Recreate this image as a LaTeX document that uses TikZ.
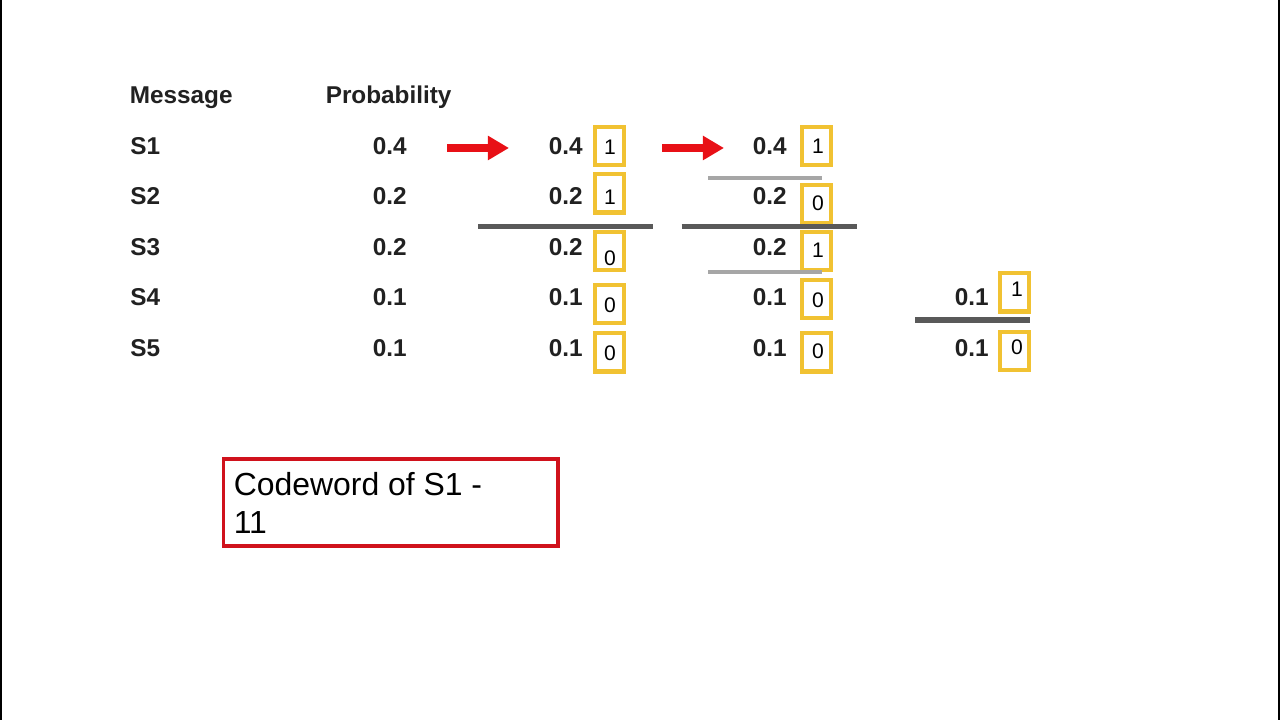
\documentclass[tikz,border=0pt]{standalone}
\usepackage{fontspec}
\setmainfont{Liberation Sans}
\usepackage{xcolor}
\usetikzlibrary{arrows.meta}

\definecolor{boxyellow}{RGB}{241,194,50}
\definecolor{linedark}{RGB}{89,89,89}
\definecolor{linelight}{RGB}{166,166,166}
\definecolor{arrowred}{RGB}{232,16,22}
\definecolor{framered}{RGB}{208,18,28}
\definecolor{labelink}{RGB}{33,33,33}

\tikzset{
  heading/.style={anchor=base west, inner sep=0pt, text=labelink,
    font=\fontsize{17.3}{20}\selectfont\bfseries},
  prob/.style={anchor=base east, inner sep=0pt, text=labelink,
    font=\fontsize{17.3}{20}\selectfont\bfseries},
  bitbox/.style={draw=boxyellow, line width=2.85pt, minimum width=0.725cm,
    minimum height=0.95cm, inner sep=0pt},
  bit/.style={inner sep=0pt, font=\fontsize{15}{18}\selectfont},
  cutdark/.style={draw=linedark, line width=3.56pt},
  cutlight/.style={draw=linelight, line width=2.85pt},
  movearrow/.style={draw=arrowred, line width=5pt,
    -{Triangle[length=15pt,width=16.4pt]}},
  codeframe/.style={draw=framered, line width=2.5pt, minimum width=8.36cm,
    minimum height=2.175cm, inner sep=0pt},
  codetext/.style={anchor=base west, inner sep=0pt, align=left,
    font=\fontsize{22.7}{27}\selectfont}
}

\begin{document}
\begin{tikzpicture}[x=0.025cm, y=-0.025cm]
    \fill[white] (0,0) rectangle (1280,720);
    \useasboundingbox (0,0) rectangle (1280,720);
    \fill[black] (0,0) rectangle (2,720);
    \fill[black] (1278,0) rectangle (1280,720);

    % column heads
    \node[heading] (msg) at (129.5,104) {Message};
    \node[heading] (prb) at (325.5,104) {Probability};

    % messages and their probabilities
    \foreach \s/\y in {1/155,2/205,3/256,4/306,5/357} {
      \node[heading] (s\s) at (130,\y) {S\s};
    };
    \foreach \p/\y [count=\i] in {0.4/155,0.2/205,0.2/256,0.1/306,0.1/357} {
      \node[prob] (p\i) at (407,\y) {\p};
      \node[prob] (q\i) at (583,\y) {\p};
      \node[prob] (r\i) at (787,\y) {\p};
    };
    \node[prob] (t4) at (989,306) {0.1};
    \node[prob] (t5) at (989,357) {0.1};

    % the bits given at each split
    \foreach \n/\x/\y/\dx/\dy/\b in {c2r1/609/146/610/147.5/1, c2r2/609/193.5/610/197.5/1,
                                     c2r3/609/251/610/258/0, c2r4/609/304/610/305/0,
                                     c2r5/609/352.5/610/353/0,%
                                     c3r1/816/146/818/146.5/1, c3r2/816/204/818/203.5/0,
                                     c3r3/816/251/818/250.5/1, c3r4/816/299/818/300/0,
                                     c3r5/816/352.5/818/351.5/0,%
                                     c4r4/1014.5/292.5/1017/289/1, c4r5/1014.5/351/1017/347.5/0} {
      \node[bitbox] (\n) at (\x,\y) {};
      \node[bit] (d\n) at (\dx,\dy) {\b};
    };

    % split lines
    \coordinate (cut2w) at (478,226.7);
    \coordinate (cut2e) at (653,226.7);
    \coordinate (cut3w) at (681.7,226.7);
    \coordinate (cut3e) at (857,226.7);
    \coordinate (up3w) at (708,178);
    \coordinate (up3e) at (822,178);
    \coordinate (lo3w) at (708,272);
    \coordinate (lo3e) at (822,272);
    \coordinate (cut4w) at (915,320);
    \coordinate (cut4e) at (1030,320);
    \draw[cutdark] (cut2w) -- (cut2e);
    \draw[cutdark] (cut3w) -- (cut3e);
    \draw[cutlight] (up3w) -- (up3e);
    \draw[cutlight] (lo3w) -- (lo3e);
    \draw[cutdark] (cut4w) -- (cut4e);

    % arrows to the next step
    \coordinate (go1s) at (447,148);
    \coordinate (go1e) at (509,148);
    \coordinate (go2s) at (662,148);
    \coordinate (go2e) at (724,148);
    \draw[movearrow] (go1s) -- (go1e);
    \draw[movearrow] (go2s) -- (go2e);

    % result
    \node[codeframe] (frame) at (390.75,502.5) {};
    \node[codetext] (code) at (233.5,533) {Codeword of S1 -\\11};
\end{tikzpicture}
\end{document}
